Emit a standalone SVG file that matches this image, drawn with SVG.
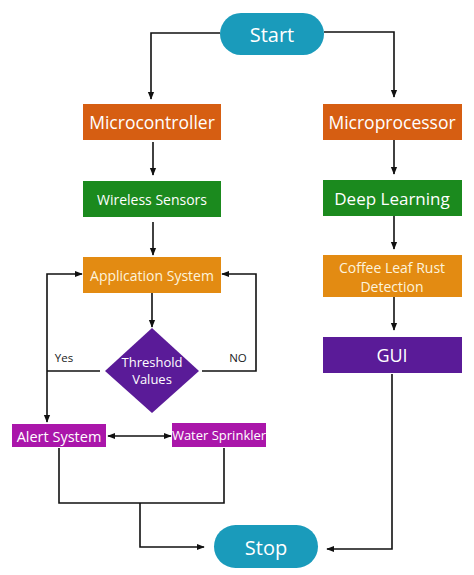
<svg xmlns="http://www.w3.org/2000/svg" width="474" height="575" viewBox="0 0 474 575">
<defs>
<marker id="ah" viewBox="0 0 10 10" refX="9" refY="5" markerWidth="5" markerHeight="5" orient="auto-start-reverse"><path d="M0,1 L10,5 L0,9 Z" fill="#111"/></marker>
<style>
.t{font-family:"Open Sans","Noto Sans",sans-serif;fill:#fff;text-anchor:middle;dominant-baseline:central}
.l{font-family:"Open Sans","Noto Sans",sans-serif;fill:#222;text-anchor:middle;dominant-baseline:central;font-size:11.5px}
.c{fill:none;stroke:#111;stroke-width:1.6}
.a{marker-end:url(#ah)}
.teal{fill:#1a9bbb}.red{fill:#d65e12}.grn{fill:#1b8a1e}.org{fill:#e38b12}.pur{fill:#5a1b98}.mag{fill:#aa16aa}
.lt{fill:#fdf3dc}
</style>
</defs>
<rect width="474" height="575" fill="#fff"/>
<g id="connectors">
<path class="c a" d="M220,33 H151 V99"/>
<path class="c a" d="M324,32 H394 V97"/>
<path class="c a" d="M153,142 V175"/>
<path class="c a" d="M394,140 V174"/>
<path class="c a" d="M153,222 V255"/>
<path class="c a" d="M394,216 V249"/>
<path class="c a" d="M152,293 V327"/>
<path class="c a" d="M394,297 V330"/>
<path class="c" d="M100,371 H47"/>
<path class="c a" d="M47,371 V274 H82"/>
<path class="c a" d="M47,371 V422"/>
<path class="c a" d="M202,371 H256 V274 H222"/>
<path class="c a" d="M108,436 H171" style="marker-start:url(#ah)"/>
<path class="c" d="M59,448 V503 H224 V448"/>
<path class="c a" d="M140,503 V547 H204"/>
<path class="c a" d="M392,374 V549 H327"/>
</g>
<g id="start"><rect class="teal" x="220" y="13" width="104" height="42" rx="21"/><text class="t" x="272" y="34" font-size="20">Start</text></g>
<g id="microcontroller"><rect class="red" x="83" y="104" width="138" height="36"/><text class="t" x="152" y="122" font-size="17.5">Microcontroller</text></g>
<g id="microprocessor"><rect class="red" x="323" y="104" width="139" height="36"/><text class="t" x="392" y="122" font-size="17.5">Microprocessor</text></g>
<g id="wireless-sensors"><rect class="grn" x="83" y="181" width="138" height="36"/><text class="t" x="152" y="199" font-size="14">Wireless Sensors</text></g>
<g id="deep-learning"><rect class="grn" x="323" y="180" width="139" height="36"/><text class="t" x="392" y="198" font-size="17">Deep Learning</text></g>
<g id="application-system"><rect class="org" x="83" y="257" width="138" height="36"/><text class="t lt" x="152" y="275" font-size="14">Application System</text></g>
<g id="coffee-leaf-rust"><rect class="org" x="323" y="255" width="139" height="42"/><text class="t lt" x="392" y="267" font-size="14">Coffee Leaf Rust</text><text class="t lt" x="392" y="286" font-size="14">Detection</text></g>
<g id="gui"><rect class="pur" x="323" y="337" width="139" height="36"/><text class="t" x="392" y="355" font-size="18">GUI</text></g>
<g id="threshold"><polygon class="pur" points="152,328 199,371 152,413 105,371"/><text class="t" x="152" y="362" font-size="13">Threshold</text><text class="t" x="152" y="379" font-size="13">Values</text></g>
<text class="l" x="64" y="357">Yes</text>
<text class="l" x="238" y="357">NO</text>
<g id="alert-system"><rect class="mag" x="12" y="424" width="94" height="23"/><text class="t" x="59" y="436" font-size="14.5">Alert System</text></g>
<g id="water-sprinkler"><rect class="mag" x="172" y="423" width="94" height="24"/><text class="t" x="219" y="435" font-size="13">Water Sprinkler</text></g>
<g id="stop"><rect class="teal" x="214" y="525" width="104" height="43" rx="21.5"/><text class="t" x="266" y="547" font-size="20">Stop</text></g>
</svg>
